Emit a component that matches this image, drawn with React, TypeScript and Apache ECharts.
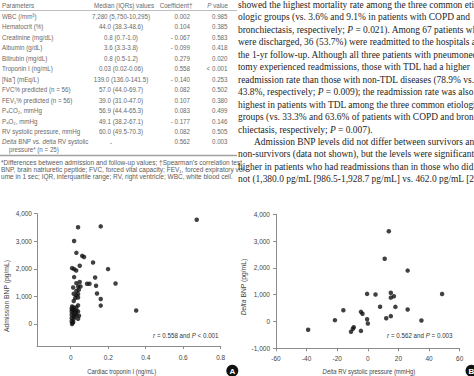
import React, { useEffect, useRef } from 'react';
import * as echarts from 'echarts';

// ---------- Data ----------
const troponin = [
  0.672, 0.16, 0.039, 0.018, 0.03, 0.061, 0.071, 0.119, 0.048, 0.007,
  0.018, 0.029, 0.199, 0.018, 0.13, 0.239, 0.087, 0.1, 0.135, 0.14,
  0.16, 0.16, 0.349, 0.03, 0.048, 0.04, 0.052, 0.013, 0.03, 0.043,
  0.016, 0.039, 0.03, 0.024, 0.039, 0.016, 0.039, 0.007, 0.016, 0.03,
  0.005, 0.01, 0.02, 0.03, 0.005, 0.016, 0.039, 0.044, 0.005, 0.016,
  0.03, 0.005, 0.016, 0.039, 0.005, 0.013, 0.007, 0.01, 0.02, 0.025,
];
const admissionBnp = [
  3780, 3540, 3510, 3010, 2580, 2470, 2430, 2230, 2110, 2025,
  1990, 1940, 1990, 1700, 1685, 1470, 1460, 1460, 1385, 1105,
  905, 665, 490, 1480, 1520, 1360, 1360, 1320, 1200, 1240,
  1095, 1085, 1035, 940, 960, 830, 675, 635, 600, 600,
  550, 520, 500, 480, 450, 430, 450, 300, 340, 310,
  330, 215, 190, 190, 100, 75, 0, 40, 260, 390,
];
const deltaRvsp = [
  -39, -21.5, -16, -11, -9.8, -9.2, -4.5, -4.5, -3.5, -0.5,
  -0.5, 0, 5, 8, 11, 13.7, 12, 15, 15, 15,
  17, 18, 26, 26, 35, 48.5,
];
const deltaBnp = [
  -310, 50, 420, -385, -270, -215, -350, 360, 290, 1030,
  85, -75, 1010, 550, 2340, 3370, 120, 200, 1075, 890,
  940, 545, 450, 1900, 40, 1025,
];

const troponinTicks = [0, 0.2, 0.4, 0.6, 0.8];
const bnpTicks = [0, 1000, 2000, 3000, 4000];

const tableParams = [
  'WBC (/mm³)', 'Hematocrit (%)', 'Creatinine (mg/dL)', 'Albumin (g/dL)',
  'Bilirubin (mg/dL)', 'Troponin I (ng/mL)', '[Na⁺] (mEq/L)',
  'FVC% predicted (n = 56)', 'FEV₁% predicted (n = 56)', 'PₐCO₂, mmHg',
  'PₐO₂, mmHg', 'RV systolic pressure, mmHg',
];
const tableMedians = [
  '7,280 (5,750-10,295)', '44.0 (38.3-48.6)', '0.8 (0.7-1.0)', '3.6 (3.3-3.8)',
  '0.8 (0.5-1.2)', '0.03 (0.02-0.06)', '139.0 (136.0-141.5)', '57.0 (44.0-69.7)',
  '39.0 (31.0-47.0)', '56.9 (44.4-65.3)', '49.1 (38.2-67.1)', '60.0 (49.5-70.3)',
];
const tableCoefs = [
  '0.002', '0.104', '- 0.067', '- 0.099', '0.279', '0.558', '- 0.140',
  '0.082', '0.107', '0.083', '- 0.177', '0.082',
];
const tablePvals = [
  '0.985', '0.385', '0.583', '0.418', '0.020', '< 0.001', '0.253',
  '0.502', '0.380', '0.499', '0.146', '0.505',
];

const footnotes = [
  '*Differences between admission and follow-up values; †Spearman\u2019s correlation test.',
  'BNP, brain natriuretic peptide; FVC, forced vital capacity; FEV₁, forced expiratory vol-',
  'ume in 1 sec; IQR, interquartile range; RV, right ventricle; WBC, white blood cell.',
];

const bodyLines = [
  'showed the highest mortality rate among the three common eti-',
  'ologic groups (vs. 3.6% and 9.1% in patients with COPD and',
  'bronchiectasis, respectively; {i|P} = 0.021). Among 67 patients who',
  'were discharged, 36 (53.7%) were readmitted to the hospitals at',
  'the 1-yr follow-up. Although all three patients with pneumonec-',
  'tomy experienced readmissions, those with TDL had a higher',
  'readmission rate than those with non-TDL diseases (78.9% vs.',
  '43.8%, respectively; {i|P} = 0.009); the readmission rate was also the',
  'highest in patients with TDL among the three common etiologic',
  'groups (vs. 33.3% and 63.6% of patients with COPD and bron-',
  'chiectasis, respectively; {i|P} = 0.007).',
  'Admission BNP levels did not differ between survivors and',
  'non-survivors (data not shown), but the levels were significantly',
  'higher in patients who had readmissions than in those who did',
  'not (1,380.0 pg/mL [986.5-1,928.7 pg/mL] vs. 462.0 pg/mL [295.',
];

// ---------- Helpers ----------
const SANS = '"Liberation Sans", Arial, sans-serif';
const SERIF = '"Liberation Serif", "Times New Roman", serif';

function T(x: number, y: number, text: string, o: any = {}) {
  const fs = o.fs ?? 7;
  const ff = o.ff ?? SANS;
  const fill = o.fill ?? '#6b6b6b';
  const align = o.align ?? 'left';
  const base = { fontSize: fs, fontFamily: ff, fill, fontWeight: o.bold ? 'bold' : 'normal' };
  return {
    type: 'text',
    x,
    y,
    scaleX: o.sx ?? 1,
    scaleY: 1,
    rotation: o.rot ?? 0,
    silent: true,
    z: 10,
    style: {
      text,
      ...base,
      fontStyle: o.italic ? 'italic' : 'normal',
      align,
      verticalAlign: 'middle',
      textAlign: align,
      textVerticalAlign: 'middle',
      rich: { i: { ...base, fontStyle: 'italic' } },
    },
  };
}

function L(x1: number, y1: number, x2: number, y2: number, stroke: string, w: number) {
  return { type: 'line', silent: true, shape: { x1, y1, x2, y2 }, style: { stroke, lineWidth: w } };
}

const commaFmt = (v: number) => Number(v).toLocaleString('en-US');

export default function App() {
  const ref = useRef<HTMLDivElement>(null);

  useEffect(() => {
    if (!ref.current) return;
    const chart = echarts.init(ref.current, undefined, { renderer: 'svg' });

    const SX = 0.83;
    const FS = 7.5;
    const g: any[] = [];

    // Table header
    const tc = '#6a6a6a';
    g.push(T(2, 5, 'Parameters', { sx: SX, fs: FS, fill: tc }));
    g.push(T(124, 5, 'Median (IQRs) values', { sx: SX, fs: FS, fill: tc, align: 'center' }));
    g.push(T(176, 5, 'Coefficient†', { sx: SX, fs: FS, fill: tc, align: 'center' }));
    g.push(T(228, 5, '{i|P} value', { sx: SX, fs: FS, fill: tc, align: 'right' }));
    g.push(L(0, 10.5, 237, 10.5, '#b0b0b0', 0.8));

    tableParams.forEach((p, i) => {
      const y = 16 + 10.5 * i;
      g.push(T(2, y, p, { sx: SX, fs: FS, fill: tc }));
      g.push(T(121, y, tableMedians[i], { sx: SX, fs: FS, fill: tc, align: 'center' }));
      g.push(T(190, y, tableCoefs[i], { sx: SX, fs: FS, fill: tc, align: 'right' }));
      g.push(T(227.5, y, tablePvals[i], { sx: SX, fs: FS, fill: tc, align: 'right' }));
    });
    g.push(T(2, 141, '{i|Delta} BNP vs. {i|delta} RV systolic', { sx: SX, fs: FS, fill: tc }));
    g.push(T(9, 149.5, 'pressure* (n = 25)', { sx: SX, fs: FS, fill: tc }));
    g.push(T(111, 142, '-', { sx: SX, fs: FS, fill: tc, align: 'center' }));
    g.push(T(190, 141, '0.562', { sx: SX, fs: FS, fill: tc, align: 'right' }));
    g.push(T(227.5, 141, '0.003', { sx: SX, fs: FS, fill: tc, align: 'right' }));
    g.push(L(0, 155.5, 237, 155.5, '#a0a0a0', 1.6));

    footnotes.forEach((f, i) => {
      g.push(T(1, 162.5 + 7.4 * i, f, { sx: 0.86, fs: 7.6, fill: '#5a5a5a' }));
    });

    // Body text (right column)
    bodyLines.forEach((t, i) => {
      const x = i === 11 ? 254 : 238;
      g.push(T(x, 5 + 12.45 * i, t, { ff: SERIF, fs: 9.45, fill: '#1e1e1e' }));
    });

    // Annotations
    g.push(T(218.5, 335.7, '{i|r} = 0.558 and {i|P} < 0.001', { sx: SX, fs: 7.5, fill: '#333', align: 'right' }));
    g.push(T(452.5, 335.3, '{i|r} = 0.562 and {i|P} = 0.003', { sx: SX, fs: 7.5, fill: '#333', align: 'right' }));

    // Axis titles
    g.push(T(121.7, 371.5, 'Cardiac troponin I (ng/mL)', { sx: 0.85, fs: 7, fill: '#444', align: 'center' }));
    g.push(T(369, 371.5, '{i|Delta} RV systolic pressure (mmHg)', { sx: 0.85, fs: 7, fill: '#444', align: 'center' }));
    g.push(T(7, 296, 'Admission BNP (pg/mL)', { sx: 0.9, fs: 7.5, fill: '#444', align: 'center', rot: Math.PI / 2 }));
    g.push(T(243.5, 287, '{i|Delta} BNP (pg/mL)', { sx: 0.9, fs: 7.5, fill: '#444', align: 'center', rot: Math.PI / 2 }));

    // Panel badges
    g.push({ type: 'circle', silent: true, shape: { cx: 232.3, cy: 370.7, r: 6 }, style: { fill: '#111' } });
    g.push(T(232.3, 371, 'A', { fs: 8, bold: true, fill: '#fff', align: 'center' }));
    g.push({ type: 'circle', silent: true, shape: { cx: 471.5, cy: 370.7, r: 6 }, style: { fill: '#111' } });
    g.push(T(471.5, 371, 'B', { fs: 8, bold: true, fill: '#fff', align: 'center' }));

    const axisLine = { show: true, onZero: false, lineStyle: { color: '#8c8c8c', width: 1 } };
    const tickStyle = { color: '#8c8c8c', width: 1 };
    const labelBase = { fontSize: 6.5, color: '#444', fontFamily: SANS };

    const option: any = {
      animation: false,
      backgroundColor: '#ffffff',
      grid: [
        { left: 37, top: 213.7, width: 183.7, height: 132.3 },
        { left: 276, top: 214.3, width: 183.7, height: 134 },
      ],
      xAxis: [
        {
          gridIndex: 0, type: 'value', min: -0.18, max: 0.8,
          axisLine, splitLine: { show: false },
          axisTick: { show: true, length: 3, lineStyle: tickStyle, customValues: troponinTicks },
          axisLabel: { ...labelBase, margin: 8, customValues: troponinTicks, formatter: (v: number) => String(v) },
        },
        {
          gridIndex: 1, type: 'value', min: -60, max: 60, interval: 20,
          axisLine, splitLine: { show: false },
          axisTick: { show: true, length: 3, lineStyle: tickStyle },
          axisLabel: { ...labelBase, margin: 7, formatter: (v: number) => String(v) },
        },
      ],
      yAxis: [
        {
          gridIndex: 0, type: 'value', min: -800, max: 4000,
          axisLine, splitLine: { show: false },
          axisTick: { show: true, length: 3, lineStyle: tickStyle, customValues: bnpTicks },
          axisLabel: { ...labelBase, margin: 5, customValues: bnpTicks, formatter: commaFmt },
        },
        {
          gridIndex: 1, type: 'value', min: -1000, max: 4000, interval: 1000,
          axisLine, splitLine: { show: false },
          axisTick: { show: true, length: 3, lineStyle: tickStyle },
          axisLabel: { ...labelBase, margin: 6, formatter: commaFmt },
        },
      ],
      series: [
        {
          type: 'scatter', xAxisIndex: 0, yAxisIndex: 0, silent: true,
          symbol: 'circle', symbolSize: 4.5, itemStyle: { color: '#111' },
          data: troponin.map((x, i) => [x, admissionBnp[i]]),
        },
        {
          type: 'scatter', xAxisIndex: 1, yAxisIndex: 1, silent: true,
          symbol: 'circle', symbolSize: 4.5, itemStyle: { color: '#111' },
          data: deltaRvsp.map((x, i) => [x, deltaBnp[i]]),
        },
      ],
      graphic: { elements: g },
    };

    chart.setOption(option);
    return () => chart.dispose();
  }, []);

  return (
    <div
      ref={ref}
      style={{ position: 'fixed', left: 0, top: 0, width: 474, height: 376, overflow: 'hidden', background: '#fff' }}
    />
  );
}
